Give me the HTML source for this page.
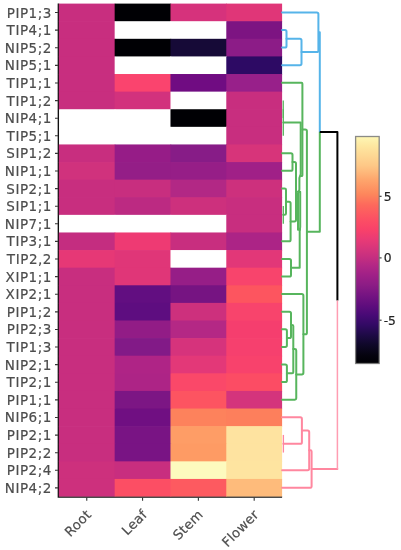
<!DOCTYPE html>
<html><head><meta charset="utf-8"><title>Clustergram</title>
<style>html,body{margin:0;padding:0;background:#fff}svg{display:block}text{font-family:"DejaVu Sans","Liberation Sans",sans-serif;fill:#4d4d4d}</style></head><body>
<svg width="401" height="550" viewBox="0 0 401 550">
<rect width="401" height="550" fill="#ffffff"/>
<path d="M58.4,3.6V497.65000000000003M57.65,497.0H282.1" stroke="#111" stroke-width="1.5" fill="none"/>
<g>
<rect x="58.85" y="3.60" width="56.51" height="18.31" fill="#c82e7f"/>
<rect x="114.66" y="3.60" width="56.51" height="18.31" fill="#000004"/>
<rect x="170.48" y="3.60" width="56.51" height="18.31" fill="#d6327c"/>
<rect x="226.29" y="3.60" width="55.81" height="18.31" fill="#e03678"/>
<rect x="58.85" y="21.21" width="56.51" height="18.31" fill="#c82e7f"/>
<rect x="114.66" y="21.21" width="56.51" height="18.31" fill="#fff"/>
<rect x="170.48" y="21.21" width="56.51" height="18.31" fill="#fff"/>
<rect x="226.29" y="21.21" width="55.81" height="18.31" fill="#7d1482"/>
<rect x="58.85" y="38.81" width="56.51" height="18.31" fill="#c82e7f"/>
<rect x="114.66" y="38.81" width="56.51" height="18.31" fill="#000004"/>
<rect x="170.48" y="38.81" width="56.51" height="18.31" fill="#160a37"/>
<rect x="226.29" y="38.81" width="55.81" height="18.31" fill="#8c1c87"/>
<rect x="58.85" y="56.42" width="56.51" height="18.31" fill="#c82e7f"/>
<rect x="114.66" y="56.42" width="56.51" height="18.31" fill="#fff"/>
<rect x="170.48" y="56.42" width="56.51" height="18.31" fill="#fff"/>
<rect x="226.29" y="56.42" width="55.81" height="18.31" fill="#2d0a64"/>
<rect x="58.85" y="74.02" width="56.51" height="18.31" fill="#c82e7f"/>
<rect x="114.66" y="74.02" width="56.51" height="18.31" fill="#fa446e"/>
<rect x="170.48" y="74.02" width="56.51" height="18.31" fill="#700c82"/>
<rect x="226.29" y="74.02" width="55.81" height="18.31" fill="#98208a"/>
<rect x="58.85" y="91.63" width="56.51" height="18.31" fill="#c82e7f"/>
<rect x="114.66" y="91.63" width="56.51" height="18.31" fill="#d2327d"/>
<rect x="170.48" y="91.63" width="56.51" height="18.31" fill="#fff"/>
<rect x="226.29" y="91.63" width="55.81" height="18.31" fill="#c82e7f"/>
<rect x="59.20" y="109.23" width="56.16" height="18.31" fill="#fff"/>
<rect x="114.66" y="109.23" width="56.51" height="18.31" fill="#fff"/>
<rect x="170.48" y="109.23" width="56.51" height="18.31" fill="#000004"/>
<rect x="226.29" y="109.23" width="55.81" height="18.31" fill="#c82e7f"/>
<rect x="59.20" y="126.84" width="56.16" height="18.31" fill="#fff"/>
<rect x="114.66" y="126.84" width="56.51" height="18.31" fill="#fff"/>
<rect x="170.48" y="126.84" width="56.51" height="18.31" fill="#fff"/>
<rect x="226.29" y="126.84" width="55.81" height="18.31" fill="#c82e7f"/>
<rect x="58.85" y="144.44" width="56.51" height="18.31" fill="#c82e7f"/>
<rect x="114.66" y="144.44" width="56.51" height="18.31" fill="#961c87"/>
<rect x="170.48" y="144.44" width="56.51" height="18.31" fill="#871c87"/>
<rect x="226.29" y="144.44" width="55.81" height="18.31" fill="#d7347a"/>
<rect x="58.85" y="162.05" width="56.51" height="18.31" fill="#d0327d"/>
<rect x="114.66" y="162.05" width="56.51" height="18.31" fill="#941e87"/>
<rect x="170.48" y="162.05" width="56.51" height="18.31" fill="#961e87"/>
<rect x="226.29" y="162.05" width="55.81" height="18.31" fill="#a02087"/>
<rect x="58.85" y="179.65" width="56.51" height="18.31" fill="#c82e7f"/>
<rect x="114.66" y="179.65" width="56.51" height="18.31" fill="#c82e7f"/>
<rect x="170.48" y="179.65" width="56.51" height="18.31" fill="#b22885"/>
<rect x="226.29" y="179.65" width="55.81" height="18.31" fill="#cd307d"/>
<rect x="58.85" y="197.26" width="56.51" height="18.31" fill="#c82e7f"/>
<rect x="114.66" y="197.26" width="56.51" height="18.31" fill="#bc2a82"/>
<rect x="170.48" y="197.26" width="56.51" height="18.31" fill="#cd307d"/>
<rect x="226.29" y="197.26" width="55.81" height="18.31" fill="#c82e7f"/>
<rect x="59.20" y="214.86" width="56.16" height="18.31" fill="#fff"/>
<rect x="114.66" y="214.86" width="56.51" height="18.31" fill="#fff"/>
<rect x="170.48" y="214.86" width="56.51" height="18.31" fill="#fff"/>
<rect x="226.29" y="214.86" width="55.81" height="18.31" fill="#c82e7f"/>
<rect x="58.85" y="232.47" width="56.51" height="18.31" fill="#c42d80"/>
<rect x="114.66" y="232.47" width="56.51" height="18.31" fill="#ee3a73"/>
<rect x="170.48" y="232.47" width="56.51" height="18.31" fill="#c82e7f"/>
<rect x="226.29" y="232.47" width="55.81" height="18.31" fill="#ac2486"/>
<rect x="58.85" y="250.07" width="56.51" height="18.31" fill="#e63876"/>
<rect x="114.66" y="250.07" width="56.51" height="18.31" fill="#e03678"/>
<rect x="170.48" y="250.07" width="56.51" height="18.31" fill="#fff"/>
<rect x="226.29" y="250.07" width="55.81" height="18.31" fill="#e23778"/>
<rect x="58.85" y="267.68" width="56.51" height="18.31" fill="#c82e7f"/>
<rect x="114.66" y="267.68" width="56.51" height="18.31" fill="#e03678"/>
<rect x="170.48" y="267.68" width="56.51" height="18.31" fill="#961e87"/>
<rect x="226.29" y="267.68" width="55.81" height="18.31" fill="#f8446c"/>
<rect x="58.85" y="285.29" width="56.51" height="18.31" fill="#c82e7f"/>
<rect x="114.66" y="285.29" width="56.51" height="18.31" fill="#620e81"/>
<rect x="170.48" y="285.29" width="56.51" height="18.31" fill="#761482"/>
<rect x="226.29" y="285.29" width="55.81" height="18.31" fill="#fd555f"/>
<rect x="58.85" y="302.89" width="56.51" height="18.31" fill="#c82e7f"/>
<rect x="114.66" y="302.89" width="56.51" height="18.31" fill="#5e0d80"/>
<rect x="170.48" y="302.89" width="56.51" height="18.31" fill="#cd307d"/>
<rect x="226.29" y="302.89" width="55.81" height="18.31" fill="#f8446c"/>
<rect x="58.85" y="320.50" width="56.51" height="18.31" fill="#c82e7f"/>
<rect x="114.66" y="320.50" width="56.51" height="18.31" fill="#921c86"/>
<rect x="170.48" y="320.50" width="56.51" height="18.31" fill="#b42885"/>
<rect x="226.29" y="320.50" width="55.81" height="18.31" fill="#f53e6e"/>
<rect x="58.85" y="338.10" width="56.51" height="18.31" fill="#c82e7f"/>
<rect x="114.66" y="338.10" width="56.51" height="18.31" fill="#821a87"/>
<rect x="170.48" y="338.10" width="56.51" height="18.31" fill="#d6337c"/>
<rect x="226.29" y="338.10" width="55.81" height="18.31" fill="#f6406e"/>
<rect x="58.85" y="355.71" width="56.51" height="18.31" fill="#c82e7f"/>
<rect x="114.66" y="355.71" width="56.51" height="18.31" fill="#af2486"/>
<rect x="170.48" y="355.71" width="56.51" height="18.31" fill="#e33878"/>
<rect x="226.29" y="355.71" width="55.81" height="18.31" fill="#f8426c"/>
<rect x="58.85" y="373.31" width="56.51" height="18.31" fill="#c82e7f"/>
<rect x="114.66" y="373.31" width="56.51" height="18.31" fill="#ad2486"/>
<rect x="170.48" y="373.31" width="56.51" height="18.31" fill="#fa4869"/>
<rect x="226.29" y="373.31" width="55.81" height="18.31" fill="#fc4c64"/>
<rect x="58.85" y="390.92" width="56.51" height="18.31" fill="#c82e7f"/>
<rect x="114.66" y="390.92" width="56.51" height="18.31" fill="#7c1684"/>
<rect x="170.48" y="390.92" width="56.51" height="18.31" fill="#fd5461"/>
<rect x="226.29" y="390.92" width="55.81" height="18.31" fill="#d4347c"/>
<rect x="58.85" y="408.52" width="56.51" height="18.31" fill="#c82e7f"/>
<rect x="114.66" y="408.52" width="56.51" height="18.31" fill="#700f82"/>
<rect x="170.48" y="408.52" width="56.51" height="18.31" fill="#fd825c"/>
<rect x="226.29" y="408.52" width="55.81" height="18.31" fill="#fd7f5c"/>
<rect x="58.85" y="426.13" width="56.51" height="18.31" fill="#c82e7f"/>
<rect x="114.66" y="426.13" width="56.51" height="18.31" fill="#791484"/>
<rect x="170.48" y="426.13" width="56.51" height="18.31" fill="#fe9d66"/>
<rect x="226.29" y="426.13" width="55.81" height="18.31" fill="#fee3a0"/>
<rect x="58.85" y="443.73" width="56.51" height="18.31" fill="#c82e7f"/>
<rect x="114.66" y="443.73" width="56.51" height="18.31" fill="#791484"/>
<rect x="170.48" y="443.73" width="56.51" height="18.31" fill="#fe9b64"/>
<rect x="226.29" y="443.73" width="55.81" height="18.31" fill="#fee3a0"/>
<rect x="58.85" y="461.34" width="56.51" height="18.31" fill="#cd307d"/>
<rect x="114.66" y="461.34" width="56.51" height="18.31" fill="#c82e7f"/>
<rect x="170.48" y="461.34" width="56.51" height="18.31" fill="#fdfabe"/>
<rect x="226.29" y="461.34" width="55.81" height="18.31" fill="#fee4a0"/>
<rect x="58.85" y="478.94" width="56.51" height="17.61" fill="#cd307d"/>
<rect x="114.66" y="478.94" width="56.51" height="17.61" fill="#fc4e64"/>
<rect x="170.48" y="478.94" width="56.51" height="17.61" fill="#fd5a60"/>
<rect x="226.29" y="478.94" width="55.81" height="17.61" fill="#febb7b"/>
</g>
<path d="M55.0,12.55H57.9M55.0,30.16H57.9M55.0,47.76H57.9M55.0,65.37H57.9M55.0,82.97H57.9M55.0,100.58H57.9M55.0,118.18H57.9M55.0,135.79H57.9M55.0,153.40H57.9M55.0,171.00H57.9M55.0,188.61H57.9M55.0,206.21H57.9M55.0,223.82H57.9M55.0,241.42H57.9M55.0,259.03H57.9M55.0,276.63H57.9M55.0,294.24H57.9M55.0,311.84H57.9M55.0,329.45H57.9M55.0,347.05H57.9M55.0,364.66H57.9M55.0,382.27H57.9M55.0,399.87H57.9M55.0,417.48H57.9M55.0,435.08H57.9M55.0,452.69H57.9M55.0,470.29H57.9M55.0,487.90H57.9M86.76,497.55V500.75M142.57,497.55V500.75M198.38,497.55V500.75M254.19,497.55V500.75" stroke="#333" stroke-width="1.1" fill="none"/>
<g font-size="13.5" text-anchor="end" letter-spacing="0.55" stroke="#4a4a4a" stroke-width="0.18">
<text x="52.0" y="17.50">PIP1;3</text>
<text x="52.0" y="35.11">TIP4;1</text>
<text x="52.0" y="52.71">NIP5;2</text>
<text x="52.0" y="70.32">NIP5;1</text>
<text x="52.0" y="87.92">TIP1;1</text>
<text x="52.0" y="105.53">TIP1;2</text>
<text x="52.0" y="123.13">NIP4;1</text>
<text x="52.0" y="140.74">TIP5;1</text>
<text x="52.0" y="158.35">SIP1;2</text>
<text x="52.0" y="175.95">NIP1;1</text>
<text x="52.0" y="193.56">SIP2;1</text>
<text x="52.0" y="211.16">SIP1;1</text>
<text x="52.0" y="228.77">NIP7;1</text>
<text x="52.0" y="246.37">TIP3;1</text>
<text x="52.0" y="263.98">TIP2,2</text>
<text x="52.0" y="281.58">XIP1;1</text>
<text x="52.0" y="299.19">XIP2;1</text>
<text x="52.0" y="316.79">PIP1;2</text>
<text x="52.0" y="334.40">PIP2;3</text>
<text x="52.0" y="352.00">TIP1;3</text>
<text x="52.0" y="369.61">NIP2;1</text>
<text x="52.0" y="387.22">TIP2;1</text>
<text x="52.0" y="404.82">PIP1;1</text>
<text x="52.0" y="422.43">NIP6;1</text>
<text x="52.0" y="440.03">PIP2;1</text>
<text x="52.0" y="457.64">PIP2;2</text>
<text x="52.0" y="475.24">PIP2;4</text>
<text x="52.0" y="492.85">NIP4;2</text>
</g>
<g font-size="13.3" text-anchor="end" letter-spacing="0.25" stroke="#4a4a4a" stroke-width="0.18">
<text transform="translate(92.16,515.45) rotate(-45)">Root</text>
<text transform="translate(147.97,515.45) rotate(-45)">Leaf</text>
<text transform="translate(203.78,515.45) rotate(-45)">Stem</text>
<text transform="translate(259.59,515.45) rotate(-45)">Flower</text>
</g>
<path d="M282.10,30.01H284.90Q286.50,30.01 286.50,31.61V46.01Q286.50,47.61 284.90,47.61H282.10" stroke="#56B4E9" stroke-width="2" fill="none" stroke-linejoin="round" stroke-linecap="round"/>
<path d="M286.50,38.81H299.90Q301.50,38.81 301.50,40.41V63.62Q301.50,65.22 299.90,65.22H282.10" stroke="#56B4E9" stroke-width="2" fill="none" stroke-linejoin="round" stroke-linecap="round"/>
<path d="M282.10,12.40H316.80Q318.40,12.40 318.40,14.00V50.41Q318.40,52.01 316.80,52.01H301.50" stroke="#56B4E9" stroke-width="2" fill="none" stroke-linejoin="round" stroke-linecap="round"/>
<path d="M283.25,100.43V118.03" stroke="#57B55D" stroke-width="1.3" fill="none"/>
<path d="M283.30,109.23V135.64" stroke="#57B55D" stroke-width="1.3" fill="none"/>
<path d="M282.10,153.25H290.90Q292.50,153.25 292.50,154.85V169.25Q292.50,170.85 290.90,170.85H282.10" stroke="#57B55D" stroke-width="2" fill="none" stroke-linejoin="round" stroke-linecap="round"/>
<path d="M283.30,206.06V223.67" stroke="#57B55D" stroke-width="1.3" fill="none"/>
<path d="M282.10,188.46H284.60Q286.00,188.46 286.00,189.86V213.46Q286.00,214.86 284.60,214.86H283.20" stroke="#57B55D" stroke-width="2" fill="none" stroke-linejoin="round" stroke-linecap="round"/>
<path d="M286.00,201.66H289.00Q290.60,201.66 290.60,203.26V239.67Q290.60,241.27 289.00,241.27H282.10" stroke="#57B55D" stroke-width="2" fill="none" stroke-linejoin="round" stroke-linecap="round"/>
<path d="M292.50,162.05H294.40Q296.00,162.05 296.00,163.65V219.87Q296.00,221.47 294.40,221.47H290.60" stroke="#57B55D" stroke-width="2" fill="none" stroke-linejoin="round" stroke-linecap="round"/>
<path d="M282.10,258.88H289.40Q291.00,258.88 291.00,260.48V274.88Q291.00,276.48 289.40,276.48H282.10" stroke="#57B55D" stroke-width="2" fill="none" stroke-linejoin="round" stroke-linecap="round"/>
<path d="M282.10,82.82H301.55Q302.40,82.82 302.40,83.67V175.23Q302.40,176.08 301.55,176.08H300.70" stroke="#57B55D" stroke-width="2" fill="none" stroke-linejoin="round" stroke-linecap="round"/>
<path d="M282.10,329.30H285.30Q286.90,329.30 286.90,330.90V345.30Q286.90,346.90 285.30,346.90H282.10" stroke="#57B55D" stroke-width="2" fill="none" stroke-linejoin="round" stroke-linecap="round"/>
<path d="M282.10,311.69H289.40Q291.00,311.69 291.00,313.29V336.50Q291.00,338.10 289.40,338.10H286.90" stroke="#57B55D" stroke-width="2" fill="none" stroke-linejoin="round" stroke-linecap="round"/>
<path d="M282.10,364.51H285.30Q286.90,364.51 286.90,366.11V380.52Q286.90,382.12 285.30,382.12H282.10" stroke="#57B55D" stroke-width="2" fill="none" stroke-linejoin="round" stroke-linecap="round"/>
<path d="M291.00,324.90H292.15Q293.30,324.90 293.30,326.05V372.16Q293.30,373.31 292.15,373.31H286.90" stroke="#57B55D" stroke-width="2" fill="none" stroke-linejoin="round" stroke-linecap="round"/>
<path d="M293.30,349.11H294.77Q296.25,349.11 296.25,350.58V398.25Q296.25,399.72 294.77,399.72H282.10" stroke="#57B55D" stroke-width="2" fill="none" stroke-linejoin="round" stroke-linecap="round"/>
<path d="M282.10,294.09H301.80Q303.40,294.09 303.40,295.69V372.81Q303.40,374.41 301.80,374.41H296.25" stroke="#57B55D" stroke-width="2" fill="none" stroke-linejoin="round" stroke-linecap="round"/>
<path d="M302.40,129.45H305.30Q306.90,129.45 306.90,131.05V332.65Q306.90,334.25 305.30,334.25H303.40" stroke="#57B55D" stroke-width="2" fill="none" stroke-linejoin="round" stroke-linecap="round"/>
<path d="M283.40,434.93V452.54" stroke="#FF879F" stroke-width="1.3" fill="none"/>
<path d="M282.10,417.33H300.30Q301.90,417.33 301.90,418.93V442.13Q301.90,443.73 300.30,443.73H283.40" stroke="#FF879F" stroke-width="2" fill="none" stroke-linejoin="round" stroke-linecap="round"/>
<path d="M301.90,430.53H307.60Q309.20,430.53 309.20,432.13V468.54Q309.20,470.14 307.60,470.14H282.10" stroke="#FF879F" stroke-width="2" fill="none" stroke-linejoin="round" stroke-linecap="round"/>
<path d="M309.20,450.34H310.40Q311.60,450.34 311.60,451.54V486.55Q311.60,487.75 310.40,487.75H282.10" stroke="#FF879F" stroke-width="2" fill="none" stroke-linejoin="round" stroke-linecap="round"/>
<path d="M296.0,191.76H300.2V227L299.7,231V267.68H291.0" stroke="#57B55D" stroke-width="2" fill="none" stroke-linejoin="round" stroke-linecap="round"/>
<path d="M283.3,122.44H300.7V174L299.4,178V189.5L298.0,193.5V229.72H300.0" stroke="#57B55D" stroke-width="2" fill="none" stroke-linejoin="round" stroke-linecap="round"/>
<path d="M318.4,32.21H319.8V132.03" stroke="#56B4E9" stroke-width="2" fill="none" stroke-linejoin="round"/>
<path d="M306.9,231.85H319.8V132.03" stroke="#57B55D" stroke-width="2" fill="none" stroke-linejoin="round"/>
<path d="M319.8,132.03H337.4V300.54" stroke="#000" stroke-width="2" fill="none" stroke-linejoin="round"/>
<path d="M311.6,469.04H337.4" stroke="#FF879F" stroke-width="2" fill="none" stroke-linecap="round"/>
<path d="M337.4,469.04V300.54" stroke="#FF9DB2" stroke-width="1.5" fill="none"/>
<defs><linearGradient id="cb" x1="0" y1="0" x2="0" y2="1">
<stop offset="0.0022" stop-color="rgb(254, 246, 180)"/>
<stop offset="0.0419" stop-color="rgb(254, 231, 160)"/>
<stop offset="0.1300" stop-color="rgb(254, 199, 134)"/>
<stop offset="0.1916" stop-color="rgb(254, 165, 108)"/>
<stop offset="0.2533" stop-color="rgb(253, 135, 92)"/>
<stop offset="0.3018" stop-color="rgb(253, 105, 92)"/>
<stop offset="0.3678" stop-color="rgb(252, 78, 100)"/>
<stop offset="0.4119" stop-color="rgb(248, 65, 106)"/>
<stop offset="0.4559" stop-color="rgb(232, 58, 118)"/>
<stop offset="0.5000" stop-color="rgb(212, 52, 124)"/>
<stop offset="0.5352" stop-color="rgb(196, 46, 128)"/>
<stop offset="0.5661" stop-color="rgb(180, 40, 133)"/>
<stop offset="0.6101" stop-color="rgb(160, 32, 135)"/>
<stop offset="0.6542" stop-color="rgb(140, 28, 133)"/>
<stop offset="0.6982" stop-color="rgb(118, 20, 130)"/>
<stop offset="0.7467" stop-color="rgb(94, 13, 125)"/>
<stop offset="0.7863" stop-color="rgb(72, 10, 118)"/>
<stop offset="0.8304" stop-color="rgb(50, 10, 100)"/>
<stop offset="0.8744" stop-color="rgb(30, 10, 70)"/>
<stop offset="0.9185" stop-color="rgb(15, 8, 40)"/>
<stop offset="0.9626" stop-color="rgb(5, 3, 15)"/>
<stop offset="0.9978" stop-color="rgb(0, 0, 4)"/>
</linearGradient></defs>
<rect x="355.6" y="136.5" width="23.6" height="227.0" fill="url(#cb)"/><rect x="355.6" y="136.5" width="23.6" height="227.0" fill="none" stroke="#777" stroke-opacity="0.85" stroke-width="1.3"/>
<path d="M379.5,196.3H381.6" stroke="#333" stroke-width="1.1"/>
<text x="383.7" y="200.8" font-size="12.3" style="fill:#222" stroke="#222" stroke-width="0.2">5</text>
<path d="M379.5,257.9H381.6" stroke="#333" stroke-width="1.1"/>
<text x="383.7" y="262.4" font-size="12.3" style="fill:#222" stroke="#222" stroke-width="0.2">0</text>
<path d="M379.5,320.2H381.6" stroke="#333" stroke-width="1.1"/>
<text x="383.7" y="324.7" font-size="12.3" style="fill:#222" stroke="#222" stroke-width="0.2">-5</text>
</svg></body></html>
